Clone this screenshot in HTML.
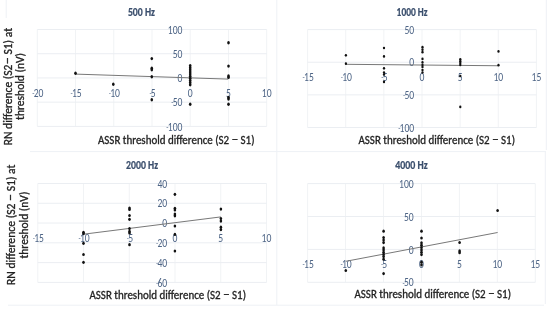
<!DOCTYPE html>
<html><head><meta charset="utf-8"><style>
html,body{margin:0;padding:0;background:#fff;}
body{width:550px;height:309px;overflow:hidden;}
svg{display:block;filter:blur(0.3px);}
</style></head><body>
<svg width="550" height="309" viewBox="0 0 550 309" font-family="Carlito, 'Liberation Sans', sans-serif">
<rect width="550" height="309" fill="#fff"/>
<line x1="276.80" y1="0.00" x2="276.80" y2="305.00" stroke="#eef1f5" stroke-width="1"/>
<line x1="546.30" y1="0.00" x2="546.30" y2="150.00" stroke="#eef1f5" stroke-width="1"/>
<line x1="545.30" y1="152.00" x2="545.30" y2="304.00" stroke="#eef1f5" stroke-width="1"/>
<line x1="30.00" y1="151.60" x2="546.00" y2="151.60" stroke="#eef1f5" stroke-width="1"/>
<line x1="8.00" y1="305.20" x2="544.00" y2="305.20" stroke="#eef1f5" stroke-width="1"/>
<line x1="6.20" y1="0.00" x2="6.20" y2="18.00" stroke="#eef1f5" stroke-width="1"/>
<line x1="37.30" y1="29.50" x2="37.30" y2="126.40" stroke="#f1f3f5" stroke-width="1"/>
<line x1="75.53" y1="29.50" x2="75.53" y2="126.40" stroke="#f1f3f5" stroke-width="1"/>
<line x1="113.77" y1="29.50" x2="113.77" y2="126.40" stroke="#f1f3f5" stroke-width="1"/>
<line x1="152.00" y1="29.50" x2="152.00" y2="126.40" stroke="#f1f3f5" stroke-width="1"/>
<line x1="190.23" y1="29.50" x2="190.23" y2="126.40" stroke="#f1f3f5" stroke-width="1"/>
<line x1="228.47" y1="29.50" x2="228.47" y2="126.40" stroke="#f1f3f5" stroke-width="1"/>
<line x1="266.70" y1="29.50" x2="266.70" y2="126.40" stroke="#f1f3f5" stroke-width="1"/>
<line x1="37.30" y1="126.40" x2="266.70" y2="126.40" stroke="#ebeef2" stroke-width="1"/>
<line x1="37.30" y1="102.17" x2="266.70" y2="102.17" stroke="#ebeef2" stroke-width="1"/>
<line x1="37.30" y1="77.95" x2="266.70" y2="77.95" stroke="#ebeef2" stroke-width="1"/>
<line x1="37.30" y1="53.73" x2="266.70" y2="53.73" stroke="#ebeef2" stroke-width="1"/>
<line x1="37.30" y1="29.50" x2="266.70" y2="29.50" stroke="#ebeef2" stroke-width="1"/>
<text x="141.40" y="15.60" font-size="11" fill="#3b4f6d" text-anchor="middle" font-weight="bold" textLength="27" lengthAdjust="spacingAndGlyphs" stroke="#3b4f6d" stroke-width="0.2">500 Hz</text>
<text transform="translate(37.90,96.75) scale(0.845,1)" font-size="11.4" fill="#4e6586" text-anchor="middle"><tspan font-size="8.5" dy="-0.9">-</tspan><tspan dy="0.9" dx="-0.9">20</tspan></text>
<text transform="translate(76.13,96.75) scale(0.845,1)" font-size="11.4" fill="#4e6586" text-anchor="middle"><tspan font-size="8.5" dy="-0.9">-</tspan><tspan dy="0.9" dx="-0.9">15</tspan></text>
<text transform="translate(114.37,96.75) scale(0.845,1)" font-size="11.4" fill="#4e6586" text-anchor="middle"><tspan font-size="8.5" dy="-0.9">-</tspan><tspan dy="0.9" dx="-0.9">10</tspan></text>
<text transform="translate(152.60,96.75) scale(0.845,1)" font-size="11.4" fill="#4e6586" text-anchor="middle"><tspan font-size="8.5" dy="-0.9">-</tspan><tspan dy="0.9" dx="-0.9">5</tspan></text>
<text transform="translate(190.23,96.75) scale(0.845,1)" font-size="11.4" fill="#4e6586" text-anchor="middle">0</text>
<text transform="translate(228.47,96.75) scale(0.845,1)" font-size="11.4" fill="#4e6586" text-anchor="middle">5</text>
<text transform="translate(266.70,96.75) scale(0.845,1)" font-size="11.4" fill="#4e6586" text-anchor="middle">10</text>
<text transform="translate(182.43,130.50) scale(0.845,1)" font-size="11.4" fill="#4e6586" text-anchor="end"><tspan font-size="8.5" dy="-0.9">-</tspan><tspan dy="0.9" dx="-0.9">100</tspan></text>
<text transform="translate(182.43,106.27) scale(0.845,1)" font-size="11.4" fill="#4e6586" text-anchor="end"><tspan font-size="8.5" dy="-0.9">-</tspan><tspan dy="0.9" dx="-0.9">50</tspan></text>
<text transform="translate(182.43,82.05) scale(0.845,1)" font-size="11.4" fill="#4e6586" text-anchor="end">0</text>
<text transform="translate(182.43,57.83) scale(0.845,1)" font-size="11.4" fill="#4e6586" text-anchor="end">50</text>
<text transform="translate(182.43,33.60) scale(0.845,1)" font-size="11.4" fill="#4e6586" text-anchor="end">100</text>
<line x1="75.50" y1="74.10" x2="228.20" y2="79.10" stroke="#787878" stroke-width="1.0"/>
<g fill="#111">
<ellipse cx="75.50" cy="73.30" rx="1.3" ry="1.7"/>
<ellipse cx="113.30" cy="84.20" rx="1.3" ry="1.7"/>
<ellipse cx="151.80" cy="58.60" rx="1.3" ry="1.7"/>
<ellipse cx="151.80" cy="68.20" rx="1.3" ry="1.7"/>
<ellipse cx="151.80" cy="69.80" rx="1.3" ry="1.7"/>
<ellipse cx="151.80" cy="76.80" rx="1.3" ry="1.7"/>
<ellipse cx="151.80" cy="99.80" rx="1.3" ry="1.7"/>
<ellipse cx="190.20" cy="65.60" rx="1.3" ry="1.7"/>
<ellipse cx="190.20" cy="67.72" rx="1.3" ry="1.7"/>
<ellipse cx="190.20" cy="69.84" rx="1.3" ry="1.7"/>
<ellipse cx="190.20" cy="71.97" rx="1.3" ry="1.7"/>
<ellipse cx="190.20" cy="74.09" rx="1.3" ry="1.7"/>
<ellipse cx="190.20" cy="76.21" rx="1.3" ry="1.7"/>
<ellipse cx="190.20" cy="78.33" rx="1.3" ry="1.7"/>
<ellipse cx="190.20" cy="80.46" rx="1.3" ry="1.7"/>
<ellipse cx="190.20" cy="82.58" rx="1.3" ry="1.7"/>
<ellipse cx="190.20" cy="84.70" rx="1.3" ry="1.7"/>
<ellipse cx="190.20" cy="104.20" rx="1.3" ry="1.7"/>
<ellipse cx="228.50" cy="42.80" rx="1.3" ry="1.7"/>
<ellipse cx="228.50" cy="66.10" rx="1.3" ry="1.7"/>
<ellipse cx="228.50" cy="75.90" rx="1.3" ry="1.7"/>
<ellipse cx="228.50" cy="77.40" rx="1.3" ry="1.7"/>
<ellipse cx="228.50" cy="97.40" rx="1.3" ry="1.7"/>
<ellipse cx="228.50" cy="99.00" rx="1.3" ry="1.7"/>
<ellipse cx="228.50" cy="104.30" rx="1.3" ry="1.7"/>
</g>
<text x="98.00" y="143.50" font-size="12" fill="#222" text-anchor="start" font-weight="normal" textLength="156.5" lengthAdjust="spacingAndGlyphs" stroke="#222" stroke-width="0.32">ASSR threshold difference (S2 <tspan font-size="15">–</tspan> S1)</text>
<text transform="translate(11.9,86.6) rotate(-90)" font-size="11.6" fill="#222" stroke="#222" stroke-width="0.32" text-anchor="middle" textLength="117.2" lengthAdjust="spacingAndGlyphs">RN difference (S2<tspan font-size="15">–</tspan> S1) at</text>
<text transform="translate(23.8,86.4) rotate(-90)" font-size="11.6" fill="#222" stroke="#222" stroke-width="0.32" text-anchor="middle" textLength="67" lengthAdjust="spacingAndGlyphs">threshold (nV)</text>
<line x1="307.60" y1="29.60" x2="307.60" y2="127.50" stroke="#f1f3f5" stroke-width="1"/>
<line x1="345.73" y1="29.60" x2="345.73" y2="127.50" stroke="#f1f3f5" stroke-width="1"/>
<line x1="383.87" y1="29.60" x2="383.87" y2="127.50" stroke="#f1f3f5" stroke-width="1"/>
<line x1="422.00" y1="29.60" x2="422.00" y2="127.50" stroke="#f1f3f5" stroke-width="1"/>
<line x1="460.13" y1="29.60" x2="460.13" y2="127.50" stroke="#f1f3f5" stroke-width="1"/>
<line x1="498.27" y1="29.60" x2="498.27" y2="127.50" stroke="#f1f3f5" stroke-width="1"/>
<line x1="536.40" y1="29.60" x2="536.40" y2="127.50" stroke="#f1f3f5" stroke-width="1"/>
<line x1="307.60" y1="127.50" x2="536.40" y2="127.50" stroke="#ebeef2" stroke-width="1"/>
<line x1="307.60" y1="94.87" x2="536.40" y2="94.87" stroke="#ebeef2" stroke-width="1"/>
<line x1="307.60" y1="62.23" x2="536.40" y2="62.23" stroke="#ebeef2" stroke-width="1"/>
<line x1="307.60" y1="29.60" x2="536.40" y2="29.60" stroke="#ebeef2" stroke-width="1"/>
<text x="412.10" y="15.80" font-size="11" fill="#3b4f6d" text-anchor="middle" font-weight="bold" textLength="31" lengthAdjust="spacingAndGlyphs" stroke="#3b4f6d" stroke-width="0.2">1000 Hz</text>
<text transform="translate(308.20,80.83) scale(0.845,1)" font-size="11.4" fill="#4e6586" text-anchor="middle"><tspan font-size="8.5" dy="-0.9">-</tspan><tspan dy="0.9" dx="-0.9">15</tspan></text>
<text transform="translate(346.33,80.83) scale(0.845,1)" font-size="11.4" fill="#4e6586" text-anchor="middle"><tspan font-size="8.5" dy="-0.9">-</tspan><tspan dy="0.9" dx="-0.9">10</tspan></text>
<text transform="translate(384.47,80.83) scale(0.845,1)" font-size="11.4" fill="#4e6586" text-anchor="middle"><tspan font-size="8.5" dy="-0.9">-</tspan><tspan dy="0.9" dx="-0.9">5</tspan></text>
<text transform="translate(422.00,80.83) scale(0.845,1)" font-size="11.4" fill="#4e6586" text-anchor="middle">0</text>
<text transform="translate(460.13,80.83) scale(0.845,1)" font-size="11.4" fill="#4e6586" text-anchor="middle">5</text>
<text transform="translate(498.27,80.83) scale(0.845,1)" font-size="11.4" fill="#4e6586" text-anchor="middle">10</text>
<text transform="translate(536.40,80.83) scale(0.845,1)" font-size="11.4" fill="#4e6586" text-anchor="middle">15</text>
<text transform="translate(414.20,131.60) scale(0.845,1)" font-size="11.4" fill="#4e6586" text-anchor="end"><tspan font-size="8.5" dy="-0.9">-</tspan><tspan dy="0.9" dx="-0.9">100</tspan></text>
<text transform="translate(414.20,98.97) scale(0.845,1)" font-size="11.4" fill="#4e6586" text-anchor="end"><tspan font-size="8.5" dy="-0.9">-</tspan><tspan dy="0.9" dx="-0.9">50</tspan></text>
<text transform="translate(414.20,66.33) scale(0.845,1)" font-size="11.4" fill="#4e6586" text-anchor="end">0</text>
<text transform="translate(414.20,33.70) scale(0.845,1)" font-size="11.4" fill="#4e6586" text-anchor="end">50</text>
<line x1="346.00" y1="64.30" x2="498.50" y2="65.75" stroke="#787878" stroke-width="1.0"/>
<g fill="#111">
<ellipse cx="345.90" cy="55.30" rx="1.15" ry="1.35"/>
<ellipse cx="345.90" cy="63.70" rx="1.15" ry="1.35"/>
<ellipse cx="384.00" cy="48.00" rx="1.15" ry="1.35"/>
<ellipse cx="384.00" cy="56.40" rx="1.15" ry="1.35"/>
<ellipse cx="384.00" cy="68.30" rx="1.15" ry="1.35"/>
<ellipse cx="384.00" cy="72.50" rx="1.15" ry="1.35"/>
<ellipse cx="384.00" cy="74.50" rx="1.15" ry="1.35"/>
<ellipse cx="384.00" cy="81.90" rx="1.15" ry="1.35"/>
<ellipse cx="422.50" cy="47.20" rx="1.15" ry="1.35"/>
<ellipse cx="422.50" cy="49.70" rx="1.15" ry="1.35"/>
<ellipse cx="422.50" cy="52.20" rx="1.15" ry="1.35"/>
<ellipse cx="422.50" cy="58.90" rx="1.15" ry="1.35"/>
<ellipse cx="422.50" cy="62.40" rx="1.15" ry="1.35"/>
<ellipse cx="422.50" cy="65.00" rx="1.15" ry="1.35"/>
<ellipse cx="422.50" cy="67.00" rx="1.15" ry="1.35"/>
<ellipse cx="422.50" cy="70.10" rx="1.15" ry="1.35"/>
<ellipse cx="422.50" cy="72.50" rx="1.15" ry="1.35"/>
<ellipse cx="460.30" cy="59.25" rx="1.15" ry="1.35"/>
<ellipse cx="460.30" cy="61.15" rx="1.15" ry="1.35"/>
<ellipse cx="460.30" cy="63.05" rx="1.15" ry="1.35"/>
<ellipse cx="460.30" cy="64.95" rx="1.15" ry="1.35"/>
<ellipse cx="460.30" cy="76.00" rx="1.15" ry="1.35"/>
<ellipse cx="460.30" cy="106.90" rx="1.15" ry="1.35"/>
<ellipse cx="498.50" cy="51.40" rx="1.15" ry="1.35"/>
<ellipse cx="498.50" cy="65.20" rx="1.15" ry="1.35"/>
</g>
<text x="358.50" y="143.80" font-size="12" fill="#222" text-anchor="start" font-weight="normal" textLength="156.5" lengthAdjust="spacingAndGlyphs" stroke="#222" stroke-width="0.32">ASSR threshold difference (S2 <tspan font-size="15">–</tspan> S1)</text>
<line x1="37.80" y1="183.50" x2="37.80" y2="282.40" stroke="#f1f3f5" stroke-width="1"/>
<line x1="83.54" y1="183.50" x2="83.54" y2="282.40" stroke="#f1f3f5" stroke-width="1"/>
<line x1="129.28" y1="183.50" x2="129.28" y2="282.40" stroke="#f1f3f5" stroke-width="1"/>
<line x1="175.02" y1="183.50" x2="175.02" y2="282.40" stroke="#f1f3f5" stroke-width="1"/>
<line x1="220.76" y1="183.50" x2="220.76" y2="282.40" stroke="#f1f3f5" stroke-width="1"/>
<line x1="266.50" y1="183.50" x2="266.50" y2="282.40" stroke="#f1f3f5" stroke-width="1"/>
<line x1="37.80" y1="282.40" x2="266.50" y2="282.40" stroke="#ebeef2" stroke-width="1"/>
<line x1="37.80" y1="262.62" x2="266.50" y2="262.62" stroke="#ebeef2" stroke-width="1"/>
<line x1="37.80" y1="242.84" x2="266.50" y2="242.84" stroke="#ebeef2" stroke-width="1"/>
<line x1="37.80" y1="223.06" x2="266.50" y2="223.06" stroke="#ebeef2" stroke-width="1"/>
<line x1="37.80" y1="203.28" x2="266.50" y2="203.28" stroke="#ebeef2" stroke-width="1"/>
<line x1="37.80" y1="183.50" x2="266.50" y2="183.50" stroke="#ebeef2" stroke-width="1"/>
<text x="142.10" y="169.40" font-size="11" fill="#3b4f6d" text-anchor="middle" font-weight="bold" textLength="32" lengthAdjust="spacingAndGlyphs" stroke="#3b4f6d" stroke-width="0.2">2000 Hz</text>
<text transform="translate(38.40,241.66) scale(0.845,1)" font-size="11.4" fill="#4e6586" text-anchor="middle"><tspan font-size="8.5" dy="-0.9">-</tspan><tspan dy="0.9" dx="-0.9">15</tspan></text>
<text transform="translate(84.14,241.66) scale(0.845,1)" font-size="11.4" fill="#4e6586" text-anchor="middle"><tspan font-size="8.5" dy="-0.9">-</tspan><tspan dy="0.9" dx="-0.9">10</tspan></text>
<text transform="translate(129.88,241.66) scale(0.845,1)" font-size="11.4" fill="#4e6586" text-anchor="middle"><tspan font-size="8.5" dy="-0.9">-</tspan><tspan dy="0.9" dx="-0.9">5</tspan></text>
<text transform="translate(175.02,241.66) scale(0.845,1)" font-size="11.4" fill="#4e6586" text-anchor="middle">0</text>
<text transform="translate(220.76,241.66) scale(0.845,1)" font-size="11.4" fill="#4e6586" text-anchor="middle">5</text>
<text transform="translate(266.50,241.66) scale(0.845,1)" font-size="11.4" fill="#4e6586" text-anchor="middle">10</text>
<text transform="translate(167.22,286.50) scale(0.845,1)" font-size="11.4" fill="#4e6586" text-anchor="end"><tspan font-size="8.5" dy="-0.9">-</tspan><tspan dy="0.9" dx="-0.9">60</tspan></text>
<text transform="translate(167.22,266.72) scale(0.845,1)" font-size="11.4" fill="#4e6586" text-anchor="end"><tspan font-size="8.5" dy="-0.9">-</tspan><tspan dy="0.9" dx="-0.9">40</tspan></text>
<text transform="translate(167.22,246.94) scale(0.845,1)" font-size="11.4" fill="#4e6586" text-anchor="end"><tspan font-size="8.5" dy="-0.9">-</tspan><tspan dy="0.9" dx="-0.9">20</tspan></text>
<text transform="translate(167.22,227.16) scale(0.845,1)" font-size="11.4" fill="#4e6586" text-anchor="end">0</text>
<text transform="translate(167.22,207.38) scale(0.845,1)" font-size="11.4" fill="#4e6586" text-anchor="end">20</text>
<text transform="translate(167.22,187.60) scale(0.845,1)" font-size="11.4" fill="#4e6586" text-anchor="end">40</text>
<line x1="83.60" y1="234.20" x2="220.90" y2="216.90" stroke="#787878" stroke-width="1.0"/>
<g fill="#111">
<ellipse cx="83.50" cy="232.30" rx="1.3" ry="1.6"/>
<ellipse cx="83.50" cy="233.60" rx="1.3" ry="1.6"/>
<ellipse cx="83.50" cy="243.30" rx="1.3" ry="1.6"/>
<ellipse cx="83.50" cy="254.50" rx="1.3" ry="1.6"/>
<ellipse cx="83.50" cy="262.30" rx="1.3" ry="1.6"/>
<ellipse cx="129.50" cy="208.00" rx="1.3" ry="1.6"/>
<ellipse cx="129.50" cy="209.50" rx="1.3" ry="1.6"/>
<ellipse cx="129.50" cy="215.50" rx="1.3" ry="1.6"/>
<ellipse cx="129.50" cy="219.30" rx="1.3" ry="1.6"/>
<ellipse cx="129.50" cy="228.60" rx="1.3" ry="1.6"/>
<ellipse cx="129.50" cy="231.40" rx="1.3" ry="1.6"/>
<ellipse cx="129.50" cy="233.00" rx="1.3" ry="1.6"/>
<ellipse cx="129.50" cy="244.70" rx="1.3" ry="1.6"/>
<ellipse cx="174.90" cy="194.30" rx="1.3" ry="1.6"/>
<ellipse cx="174.90" cy="208.30" rx="1.3" ry="1.6"/>
<ellipse cx="174.90" cy="210.00" rx="1.3" ry="1.6"/>
<ellipse cx="174.90" cy="214.00" rx="1.3" ry="1.6"/>
<ellipse cx="174.90" cy="215.80" rx="1.3" ry="1.6"/>
<ellipse cx="174.90" cy="226.00" rx="1.3" ry="1.6"/>
<ellipse cx="174.90" cy="234.40" rx="1.3" ry="1.6"/>
<ellipse cx="174.90" cy="251.00" rx="1.3" ry="1.6"/>
<ellipse cx="220.90" cy="209.10" rx="1.3" ry="1.6"/>
<ellipse cx="220.90" cy="218.50" rx="1.3" ry="1.6"/>
<ellipse cx="220.90" cy="221.10" rx="1.3" ry="1.6"/>
<ellipse cx="220.90" cy="227.20" rx="1.3" ry="1.6"/>
<ellipse cx="220.90" cy="229.60" rx="1.3" ry="1.6"/>
</g>
<text x="89.50" y="299.20" font-size="12" fill="#222" text-anchor="start" font-weight="normal" textLength="156.5" lengthAdjust="spacingAndGlyphs" stroke="#222" stroke-width="0.32">ASSR threshold difference (S2 <tspan font-size="15">–</tspan> S1)</text>
<text transform="translate(15.4,224.8) rotate(-90)" font-size="11.6" fill="#222" stroke="#222" stroke-width="0.32" text-anchor="middle" textLength="120.6" lengthAdjust="spacingAndGlyphs">RN difference (S2 <tspan font-size="14">–</tspan> S1) at</text>
<text transform="translate(27.7,225.1) rotate(-90)" font-size="11.6" fill="#222" stroke="#222" stroke-width="0.32" text-anchor="middle" textLength="67" lengthAdjust="spacingAndGlyphs">threshold (nV)</text>
<line x1="307.60" y1="183.60" x2="307.60" y2="282.30" stroke="#f1f3f5" stroke-width="1"/>
<line x1="345.55" y1="183.60" x2="345.55" y2="282.30" stroke="#f1f3f5" stroke-width="1"/>
<line x1="383.50" y1="183.60" x2="383.50" y2="282.30" stroke="#f1f3f5" stroke-width="1"/>
<line x1="421.45" y1="183.60" x2="421.45" y2="282.30" stroke="#f1f3f5" stroke-width="1"/>
<line x1="459.40" y1="183.60" x2="459.40" y2="282.30" stroke="#f1f3f5" stroke-width="1"/>
<line x1="497.35" y1="183.60" x2="497.35" y2="282.30" stroke="#f1f3f5" stroke-width="1"/>
<line x1="535.30" y1="183.60" x2="535.30" y2="282.30" stroke="#f1f3f5" stroke-width="1"/>
<line x1="307.60" y1="282.30" x2="535.30" y2="282.30" stroke="#ebeef2" stroke-width="1"/>
<line x1="307.60" y1="249.40" x2="535.30" y2="249.40" stroke="#ebeef2" stroke-width="1"/>
<line x1="307.60" y1="216.50" x2="535.30" y2="216.50" stroke="#ebeef2" stroke-width="1"/>
<line x1="307.60" y1="183.60" x2="535.30" y2="183.60" stroke="#ebeef2" stroke-width="1"/>
<text x="411.40" y="169.20" font-size="11" fill="#3b4f6d" text-anchor="middle" font-weight="bold" textLength="32.5" lengthAdjust="spacingAndGlyphs" stroke="#3b4f6d" stroke-width="0.2">4000 Hz</text>
<text transform="translate(308.20,268.00) scale(0.845,1)" font-size="11.4" fill="#4e6586" text-anchor="middle"><tspan font-size="8.5" dy="-0.9">-</tspan><tspan dy="0.9" dx="-0.9">15</tspan></text>
<text transform="translate(346.15,268.00) scale(0.845,1)" font-size="11.4" fill="#4e6586" text-anchor="middle"><tspan font-size="8.5" dy="-0.9">-</tspan><tspan dy="0.9" dx="-0.9">10</tspan></text>
<text transform="translate(384.10,268.00) scale(0.845,1)" font-size="11.4" fill="#4e6586" text-anchor="middle"><tspan font-size="8.5" dy="-0.9">-</tspan><tspan dy="0.9" dx="-0.9">5</tspan></text>
<text transform="translate(421.45,268.00) scale(0.845,1)" font-size="11.4" fill="#4e6586" text-anchor="middle">0</text>
<text transform="translate(459.40,268.00) scale(0.845,1)" font-size="11.4" fill="#4e6586" text-anchor="middle">5</text>
<text transform="translate(497.35,268.00) scale(0.845,1)" font-size="11.4" fill="#4e6586" text-anchor="middle">10</text>
<text transform="translate(535.30,268.00) scale(0.845,1)" font-size="11.4" fill="#4e6586" text-anchor="middle">15</text>
<text transform="translate(413.65,286.40) scale(0.845,1)" font-size="11.4" fill="#4e6586" text-anchor="end"><tspan font-size="8.5" dy="-0.9">-</tspan><tspan dy="0.9" dx="-0.9">50</tspan></text>
<text transform="translate(413.65,253.50) scale(0.845,1)" font-size="11.4" fill="#4e6586" text-anchor="end">0</text>
<text transform="translate(413.65,220.60) scale(0.845,1)" font-size="11.4" fill="#4e6586" text-anchor="end">50</text>
<text transform="translate(413.65,187.70) scale(0.845,1)" font-size="11.4" fill="#4e6586" text-anchor="end">100</text>
<line x1="345.80" y1="261.30" x2="497.60" y2="232.50" stroke="#787878" stroke-width="1.0"/>
<g fill="#111">
<ellipse cx="345.80" cy="270.50" rx="1.3" ry="1.6"/>
<ellipse cx="383.60" cy="231.20" rx="1.3" ry="1.6"/>
<ellipse cx="383.60" cy="237.60" rx="1.3" ry="1.6"/>
<ellipse cx="383.60" cy="240.10" rx="1.3" ry="1.6"/>
<ellipse cx="383.60" cy="242.60" rx="1.3" ry="1.6"/>
<ellipse cx="383.60" cy="247.90" rx="1.3" ry="1.6"/>
<ellipse cx="383.60" cy="250.07" rx="1.3" ry="1.6"/>
<ellipse cx="383.60" cy="252.25" rx="1.3" ry="1.6"/>
<ellipse cx="383.60" cy="254.42" rx="1.3" ry="1.6"/>
<ellipse cx="383.60" cy="256.60" rx="1.3" ry="1.6"/>
<ellipse cx="383.60" cy="259.20" rx="1.3" ry="1.6"/>
<ellipse cx="383.60" cy="273.60" rx="1.3" ry="1.6"/>
<ellipse cx="421.50" cy="231.20" rx="1.3" ry="1.6"/>
<ellipse cx="421.50" cy="238.00" rx="1.3" ry="1.6"/>
<ellipse cx="421.50" cy="242.80" rx="1.3" ry="1.6"/>
<ellipse cx="421.50" cy="245.16" rx="1.3" ry="1.6"/>
<ellipse cx="421.50" cy="247.52" rx="1.3" ry="1.6"/>
<ellipse cx="421.50" cy="249.88" rx="1.3" ry="1.6"/>
<ellipse cx="421.50" cy="252.24" rx="1.3" ry="1.6"/>
<ellipse cx="421.50" cy="254.60" rx="1.3" ry="1.6"/>
<ellipse cx="421.50" cy="262.20" rx="1.3" ry="1.6"/>
<ellipse cx="421.50" cy="264.80" rx="1.3" ry="1.6"/>
<ellipse cx="459.60" cy="242.50" rx="1.3" ry="1.6"/>
<ellipse cx="459.60" cy="250.90" rx="1.3" ry="1.6"/>
<ellipse cx="459.60" cy="252.70" rx="1.3" ry="1.6"/>
<ellipse cx="497.60" cy="210.50" rx="1.3" ry="1.6"/>
</g>
<text x="354.50" y="298.00" font-size="12" fill="#222" text-anchor="start" font-weight="normal" textLength="156.5" lengthAdjust="spacingAndGlyphs" stroke="#222" stroke-width="0.32">ASSR threshold difference (S2 <tspan font-size="15">–</tspan> S1)</text>
</svg>
</body></html>
